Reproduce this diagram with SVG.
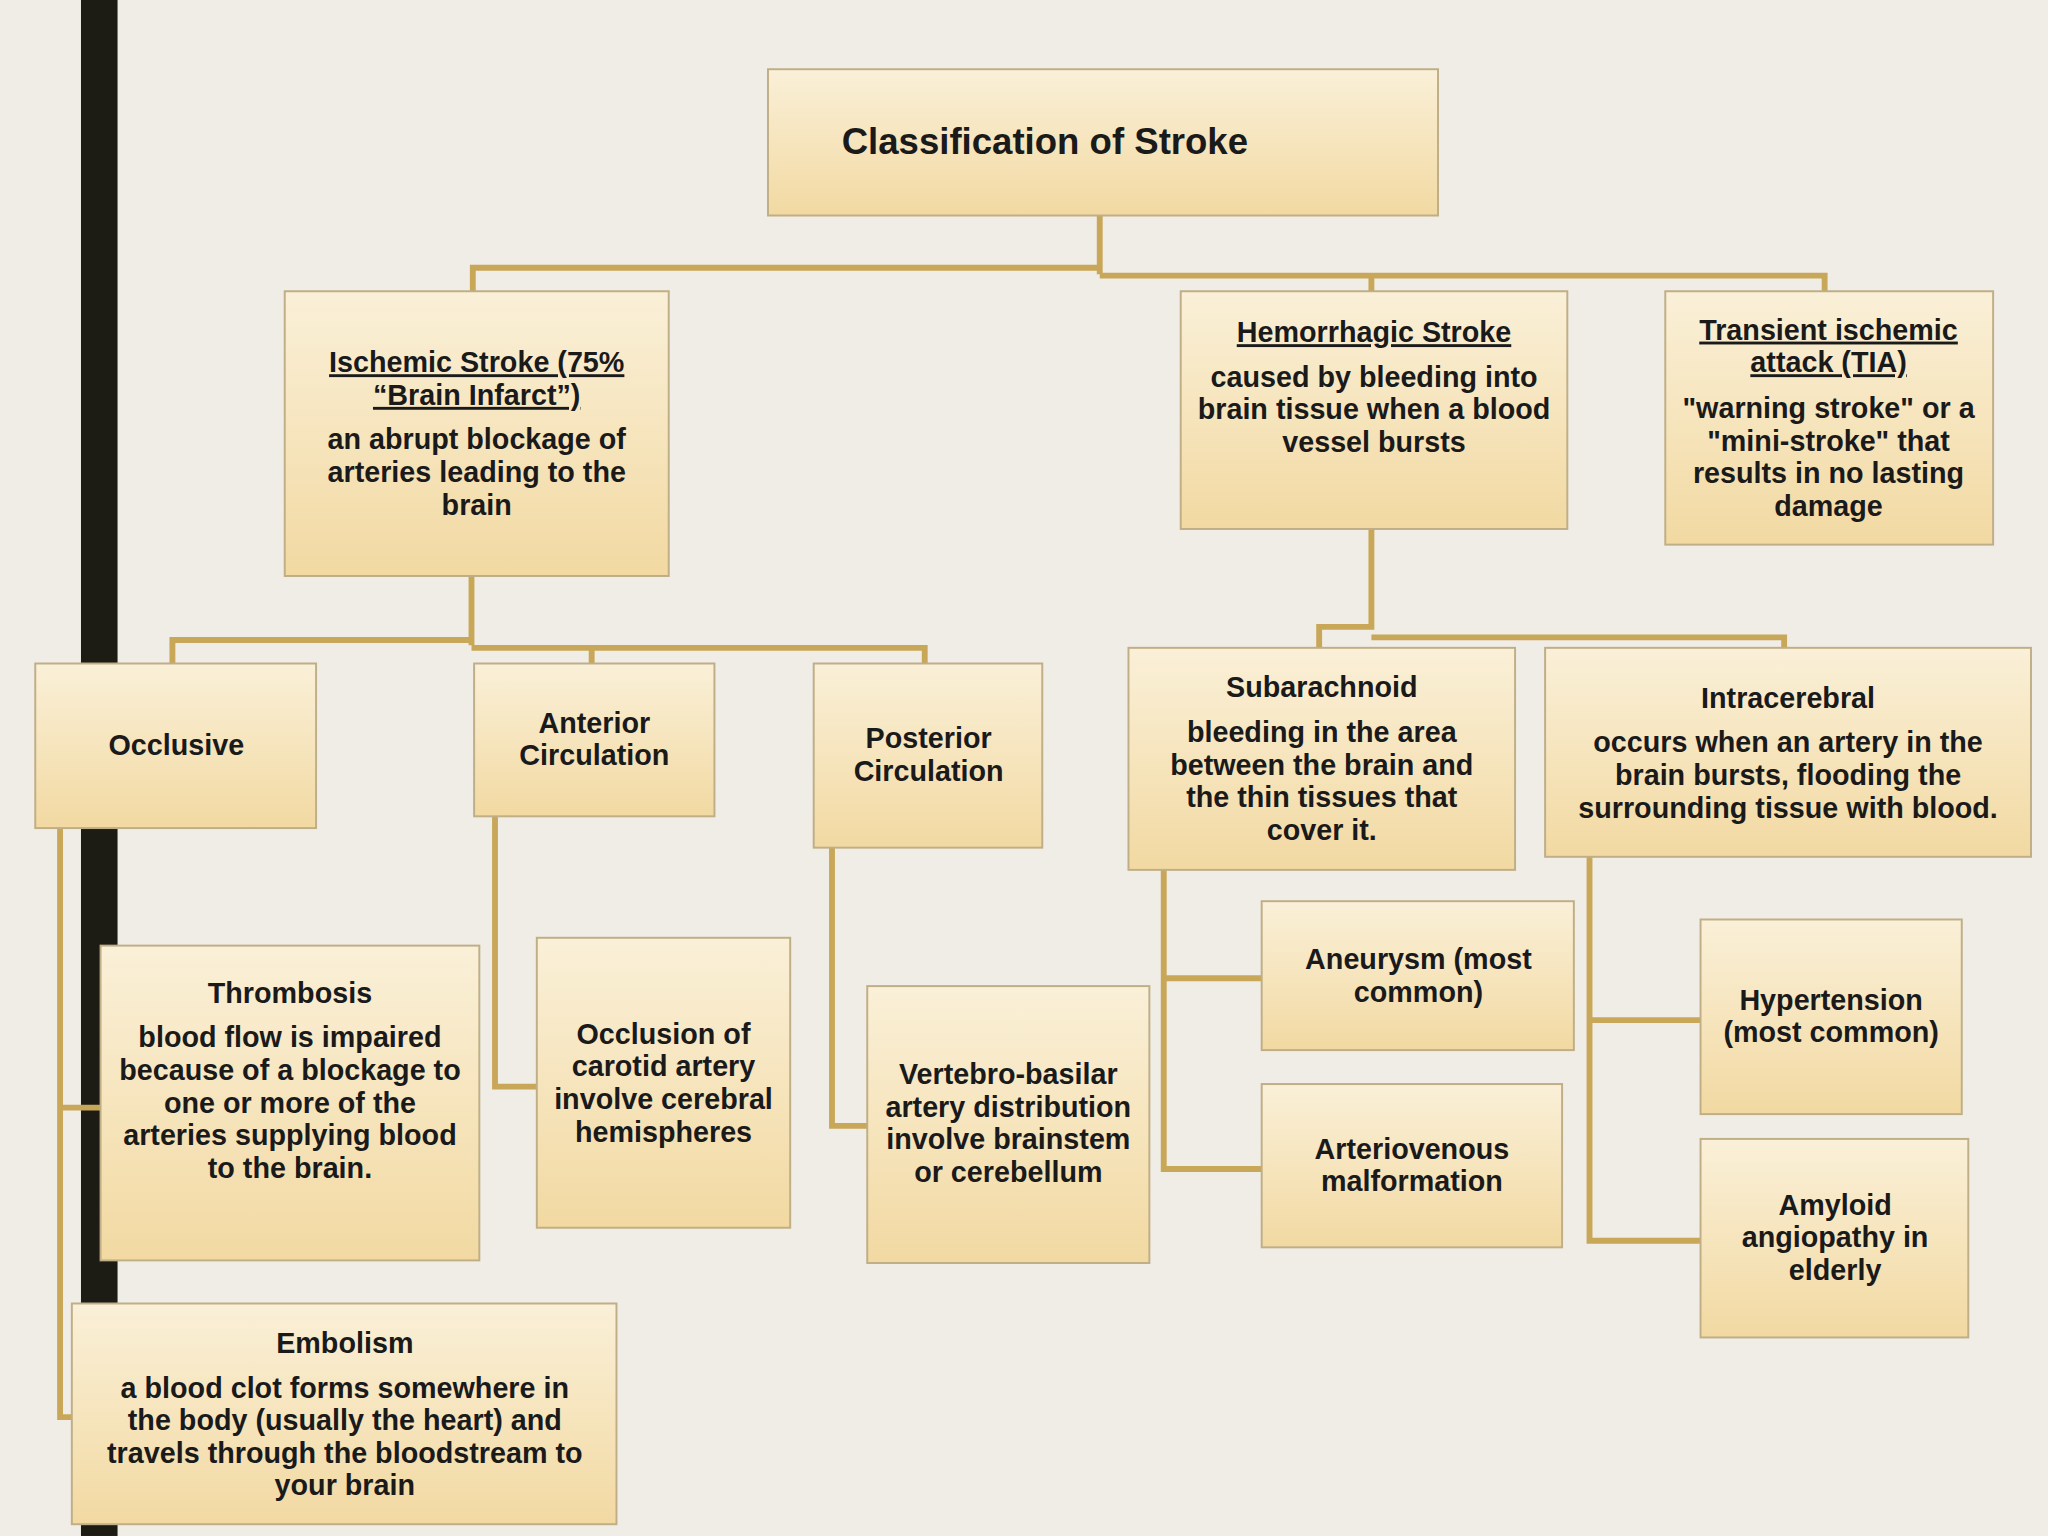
<svg xmlns="http://www.w3.org/2000/svg" width="2048" height="1536" viewBox="0 0 2048 1536">
<defs>
<linearGradient id="g" x1="0" y1="0" x2="0" y2="1"><stop offset="0" stop-color="#faf0d8"/><stop offset="1" stop-color="#f2d9a2"/></linearGradient>
<style>
.b{fill:url(#g);stroke:#bfae86;stroke-width:1.5}
.t{font-family:"Liberation Sans",Arial,sans-serif;font-weight:bold;font-size:22px;fill:#1a1a1a;text-anchor:middle}
.u{text-decoration:underline}
.c{fill:none;stroke:#c8a858;stroke-width:4.5}
</style>
</defs>
<rect width="2048" height="1536" fill="#f0ede6"/>
<g transform="scale(1.3061)">
<rect x="62" y="0" width="28" height="1176" fill="#1c1c14"/>
<g id="connectors" class="c">
<path d="M842 165V210M362 223V205H842M842 211H1397V223M1050 211V223"/>
<path d="M361 441V494M132 508V490H361M361 496H708V508M453 496V508"/>
<path d="M1050 405V480H1010V496M1050 488H1366V496"/>
<path d="M46 634V1085H55M46 848H77"/>
<path d="M379 625V832H411"/>
<path d="M637 649V862H664"/>
<path d="M891 666V895H966M891 749H966"/>
<path d="M1217 656V950H1302M1217 781H1302"/>
</g>
<g id="title"><rect class="b" x="588" y="53" width="513" height="112"/><text class="t" x="800" y="118" style="font-size:28px">Classification of Stroke</text></g>
<g id="ischemic"><rect class="b" x="218" y="223" width="294" height="218"/><text class="t"><tspan class="u" x="365" y="285">Ischemic Stroke (75%</tspan><tspan class="u" x="365" y="310">“Brain Infarct”)</tspan><tspan x="365" y="344">an abrupt blockage of</tspan><tspan x="365" y="369">arteries leading to the</tspan><tspan x="365" y="394">brain</tspan></text></g>
<g id="hemorrhagic"><rect class="b" x="904" y="223" width="296" height="182"/><text class="t"><tspan class="u" x="1052" y="262">Hemorrhagic Stroke</tspan><tspan x="1052" y="296">caused by bleeding into</tspan><tspan x="1052" y="321">brain tissue when a blood</tspan><tspan x="1052" y="346">vessel bursts</tspan></text></g>
<g id="tia"><rect class="b" x="1275" y="223" width="251" height="194"/><text class="t"><tspan class="u" x="1400" y="260">Transient ischemic</tspan><tspan class="u" x="1400" y="285">attack (TIA)</tspan><tspan x="1400" y="320">"warning stroke" or a</tspan><tspan x="1400" y="345">"mini-stroke" that</tspan><tspan x="1400" y="370">results in no lasting</tspan><tspan x="1400" y="395">damage</tspan></text></g>
<g id="occlusive"><rect class="b" x="27" y="508" width="215" height="126"/><text class="t" x="135" y="578">Occlusive</text></g>
<g id="anterior"><rect class="b" x="363" y="508" width="184" height="117"/><text class="t"><tspan x="455" y="561">Anterior</tspan><tspan x="455" y="586">Circulation</tspan></text></g>
<g id="posterior"><rect class="b" x="623" y="508" width="175" height="141"/><text class="t"><tspan x="711" y="573">Posterior</tspan><tspan x="711" y="598">Circulation</tspan></text></g>
<g id="subarachnoid"><rect class="b" x="864" y="496" width="296" height="170"/><text class="t"><tspan x="1012" y="534">Subarachnoid</tspan><tspan x="1012" y="568">bleeding in the area</tspan><tspan x="1012" y="593">between the brain and</tspan><tspan x="1012" y="618">the thin tissues that</tspan><tspan x="1012" y="643">cover it.</tspan></text></g>
<g id="intracerebral"><rect class="b" x="1183" y="496" width="372" height="160"/><text class="t"><tspan x="1369" y="542">Intracerebral</tspan><tspan x="1369" y="576">occurs when an artery in the</tspan><tspan x="1369" y="601">brain bursts, flooding the</tspan><tspan x="1369" y="626">surrounding tissue with blood.</tspan></text></g>
<g id="thrombosis"><rect class="b" x="77" y="724" width="290" height="241"/><text class="t"><tspan x="222" y="768">Thrombosis</tspan><tspan x="222" y="802">blood flow is impaired</tspan><tspan x="222" y="827">because of a blockage to</tspan><tspan x="222" y="852">one or more of the</tspan><tspan x="222" y="877">arteries supplying blood</tspan><tspan x="222" y="902">to the brain.</tspan></text></g>
<g id="carotid"><rect class="b" x="411" y="718" width="194" height="222"/><text class="t"><tspan x="508" y="799">Occlusion of</tspan><tspan x="508" y="824">carotid artery</tspan><tspan x="508" y="849">involve cerebral</tspan><tspan x="508" y="874">hemispheres</tspan></text></g>
<g id="vertebro"><rect class="b" x="664" y="755" width="216" height="212"/><text class="t"><tspan x="772" y="830">Vertebro-basilar</tspan><tspan x="772" y="855">artery distribution</tspan><tspan x="772" y="880">involve brainstem</tspan><tspan x="772" y="905">or cerebellum</tspan></text></g>
<g id="aneurysm"><rect class="b" x="966" y="690" width="239" height="114"/><text class="t"><tspan x="1086" y="742">Aneurysm (most</tspan><tspan x="1086" y="767">common)</tspan></text></g>
<g id="avm"><rect class="b" x="966" y="830" width="230" height="125"/><text class="t"><tspan x="1081" y="887">Arteriovenous</tspan><tspan x="1081" y="912">malformation</tspan></text></g>
<g id="hypertension"><rect class="b" x="1302" y="704" width="200" height="149"/><text class="t"><tspan x="1402" y="773">Hypertension</tspan><tspan x="1402" y="798">(most common)</tspan></text></g>
<g id="amyloid"><rect class="b" x="1302" y="872" width="205" height="152"/><text class="t"><tspan x="1405" y="930">Amyloid</tspan><tspan x="1405" y="955">angiopathy in</tspan><tspan x="1405" y="980">elderly</tspan></text></g>
<g id="embolism"><rect class="b" x="55" y="998" width="417" height="169"/><text class="t"><tspan x="264" y="1036">Embolism</tspan><tspan x="264" y="1070">a blood clot forms somewhere in</tspan><tspan x="264" y="1095">the body (usually the heart) and</tspan><tspan x="264" y="1120">travels through the bloodstream to</tspan><tspan x="264" y="1145">your brain</tspan></text></g>
</g>
</svg>
